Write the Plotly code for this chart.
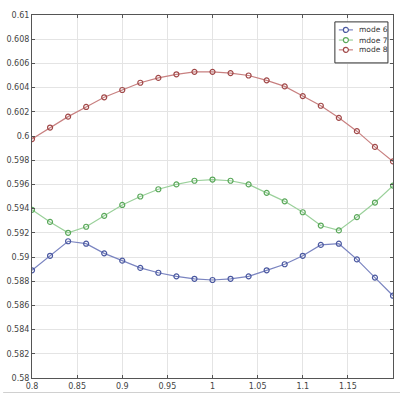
import plotly.graph_objects as go

x_vals = [0.80, 0.82, 0.84, 0.86, 0.88, 0.90, 0.92, 0.94, 0.96, 0.98, 1.00,
          1.02, 1.04, 1.06, 1.08, 1.10, 1.12, 1.14, 1.16, 1.18, 1.20]

mode6 = [0.5889, 0.5901, 0.5913, 0.5911, 0.5903, 0.5897, 0.5891, 0.5887, 0.5884, 0.5882, 0.5881,
         0.5882, 0.5884, 0.5889, 0.5894, 0.5901, 0.5910, 0.5911, 0.5898, 0.5883, 0.5868]
mode7 = [0.5939, 0.5929, 0.5920, 0.5925, 0.5934, 0.5943, 0.5950, 0.5956, 0.5960, 0.5963, 0.5964,
         0.5963, 0.5960, 0.5953, 0.5946, 0.5937, 0.5926, 0.5922, 0.5933, 0.5945, 0.5959]
mode8 = [0.59975, 0.6007, 0.6016, 0.6024, 0.6032, 0.6038, 0.6044, 0.6048, 0.6051, 0.6053, 0.6053,
         0.6052, 0.6050, 0.6046, 0.6041, 0.6033, 0.6025, 0.6015, 0.6004, 0.5991, 0.5979]

series_names = ["mode 6", "mdoe 7", "mode 8"]
series_values = [mode6, mode7, mode8]
marker_colors = ["#4a58a0", "#5aa85a", "#a04848"]
line_colors = ["#7a84c0", "#9ad09a", "#c88080"]

x_ticks = [0.8, 0.85, 0.9, 0.95, 1, 1.05, 1.1, 1.15]
x_labels = ["0.8", "0.85", "0.9", "0.95", "1", "1.05", "1.1", "1.15"]
y_ticks = [0.58, 0.582, 0.584, 0.586, 0.588, 0.59, 0.592, 0.594, 0.596, 0.598,
           0.6, 0.602, 0.604, 0.606, 0.608, 0.61]
y_labels = ["0.58", "0.582", "0.584", "0.586", "0.588", "0.59", "0.592", "0.594", "0.596", "0.598",
            "0.6", "0.602", "0.604", "0.606", "0.608", "0.61"]

fig = go.Figure()
for name, vals, mcol, lcol in zip(series_names, series_values, marker_colors, line_colors):
    fig.add_trace(go.Scatter(
        x=x_vals, y=vals, name=name, mode="lines+markers", showlegend=False,
        line=dict(color=lcol, width=1.2),
        marker=dict(symbol="circle-open", size=5, color=mcol, line=dict(width=1.2, color=mcol)),
    ))

axis_common = dict(showline=True, linecolor="#555555", linewidth=1, mirror="ticks",
                   ticks="inside", ticklen=3, tickcolor="#555555",
                   showgrid=True, gridcolor="#e4e4e4", gridwidth=1, zeroline=False,
                   tickfont=dict(family="DejaVu Sans", size=8, color="#444444"))

fig.update_xaxes(range=[0.8, 1.2], tickvals=x_ticks, ticktext=x_labels, **axis_common)
fig.update_yaxes(range=[0.58, 0.61], tickvals=y_ticks, ticktext=y_labels, **axis_common)

fig.add_shape(type="line", xref="paper", yref="paper", x0=-0.08, x1=1.02, y0=-0.04, y1=-0.04,
              line=dict(color="#d0d0d0", width=1))

# compact legend drawn with shapes and annotations (paper coordinates)
fig.add_shape(type="rect", xref="paper", yref="paper", x0=0.839, x1=0.986, y0=0.868, y1=0.981,
              line=dict(color="#333333", width=1), fillcolor="white", layer="above")
legend_y = [0.959, 0.931, 0.904]
for name, ly, mcol, lcol in zip(series_names, legend_y, marker_colors, line_colors):
    fig.add_shape(type="line", xref="paper", yref="paper", x0=0.850, x1=0.889, y0=ly, y1=ly,
                  line=dict(color=lcol, width=1.2), layer="above")
    fig.add_shape(type="circle", xref="paper", yref="paper", xsizemode="pixel", ysizemode="pixel",
                  xanchor=0.8695, yanchor=ly, x0=-2.5, x1=2.5, y0=-2.5, y1=2.5,
                  line=dict(color=mcol, width=1.2), fillcolor="white", layer="above")
    fig.add_annotation(xref="paper", yref="paper", x=0.900, y=ly, text=name, showarrow=False,
                       xanchor="left", yanchor="middle",
                       font=dict(family="DejaVu Sans", size=7.5, color="#333333"))

fig.update_layout(
    width=400, height=400,
    margin=dict(l=28, r=6, t=15, b=22),
    paper_bgcolor="white", plot_bgcolor="white",
    showlegend=False,
)

fig.write_html("out.html")
